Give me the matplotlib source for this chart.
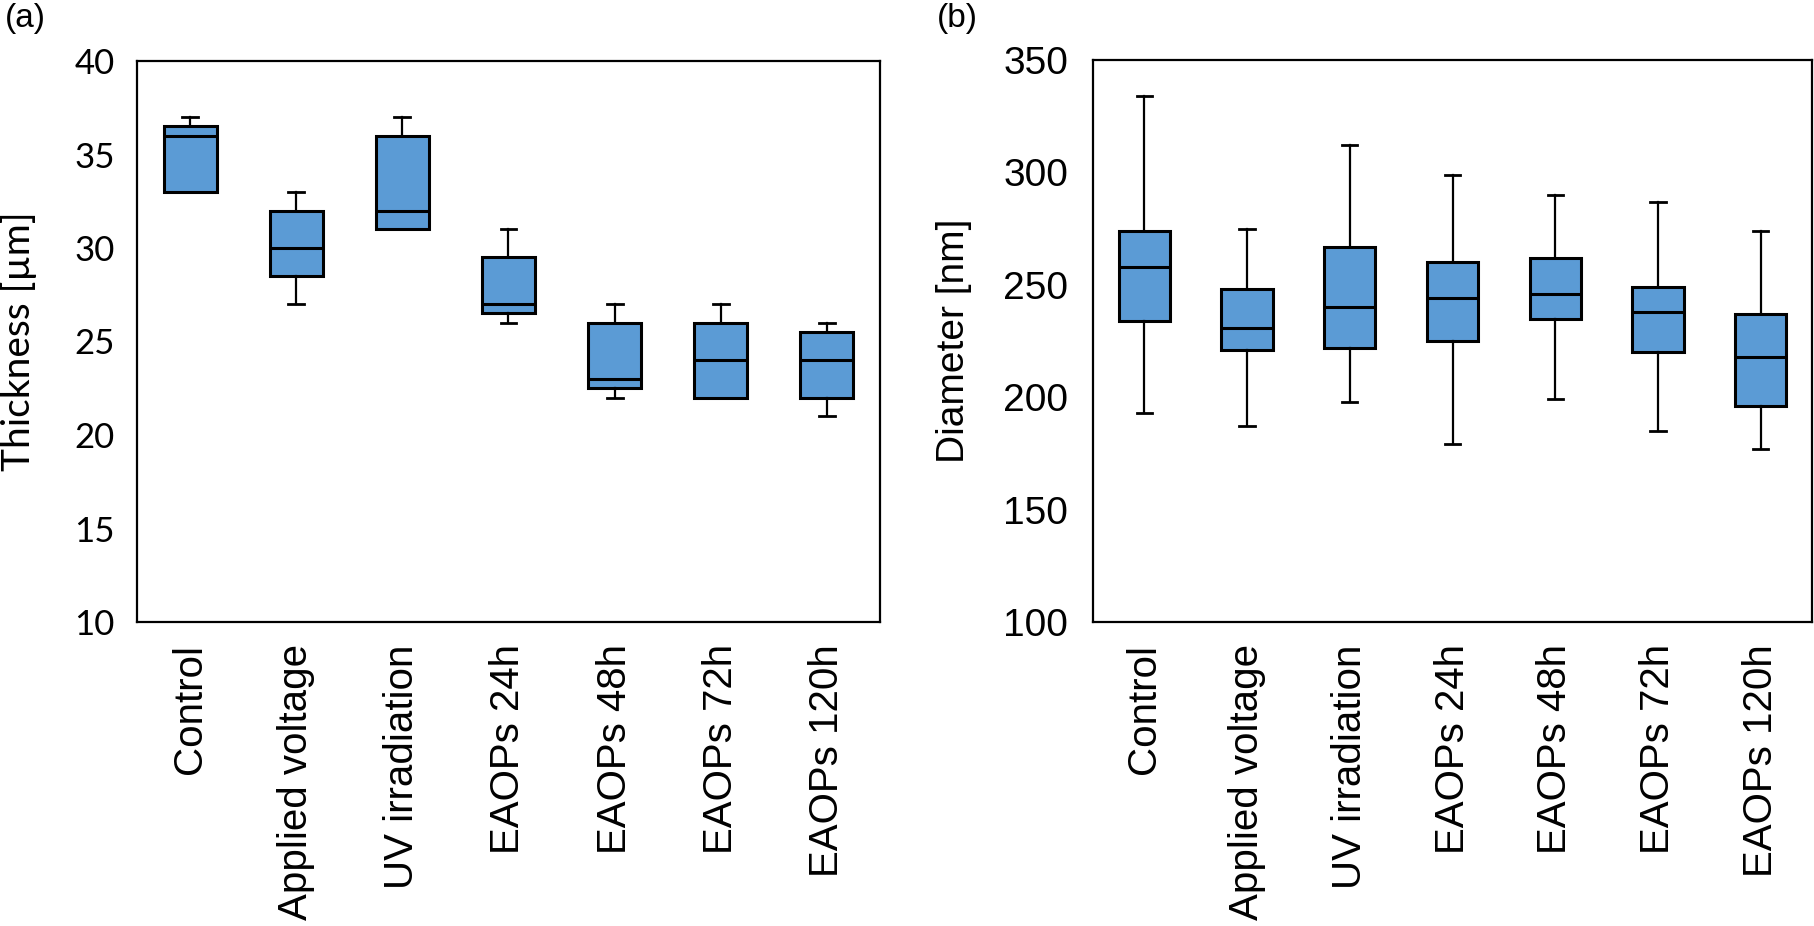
import numpy as np
import matplotlib.pyplot as plt

# Category labels shared by both panels
categories = ["Control", "Applied voltage", "UV irradiation", "EAOPs 24h",
              "EAOPs 48h", "EAOPs 72h", "EAOPs 120h"]

# (a) Thickness [µm] box statistics
thick_low = [33, 27, 31, 26, 22, 22, 21]
thick_q1 = [33, 28.5, 31, 26.5, 22.5, 22, 22]
thick_med = [36, 30, 32, 27, 23, 24, 24]
thick_q3 = [36.5, 32, 36, 29.5, 26, 26, 25.5]
thick_high = [37, 33, 37, 31, 27, 27, 26]

# (b) Diameter [nm] box statistics
diam_low = [193, 187, 198, 179, 199, 185, 177]
diam_q1 = [234, 221, 222, 225, 235, 220, 196]
diam_med = [258, 231, 240, 244, 246, 238, 218]
diam_q3 = [274, 248, 267, 260, 262, 249, 237]
diam_high = [334, 275, 312, 299, 290, 287, 274]

BOX_COLOR = "#5B9BD5"
W, H = 1815, 926


def make_stats(low, q1, med, q3, high):
    return [
        dict(whislo=a, q1=b, med=c, q3=d, whishi=e, fliers=[])
        for a, b, c, d, e in zip(low, q1, med, q3, high)
    ]


def px_axes(fig, left, top, right, bottom):
    return fig.add_axes([left / W, 1 - bottom / H, (right - left) / W, (bottom - top) / H])


def draw_panel(ax, stats, ylim, yticks, ylabel, font, tick_size, ypad, label_x):
    ax.bxp(
        stats,
        positions=np.arange(len(stats)),
        widths=0.5,
        showfliers=False,
        patch_artist=True,
        boxprops=dict(facecolor=BOX_COLOR, edgecolor="black", linewidth=2.2),
        medianprops=dict(color="black", linewidth=2.2),
        whiskerprops=dict(color="black", linewidth=1.6),
        capprops=dict(color="black", linewidth=2),
        capwidths=0.15,
    )
    ax.set_xlim(-0.5, len(stats) - 0.5)
    ax.set_ylim(*ylim)
    ax.set_yticks(yticks)
    ax.set_xticks(np.arange(len(stats)))
    ax.set_xticklabels(categories, rotation=90, fontsize=29,
                       family="Liberation Sans")
    ax.tick_params(axis="both", length=0)
    ax.tick_params(axis="y", pad=ypad)
    ax.tick_params(axis="x", pad=16)
    for lbl in ax.get_yticklabels():
        lbl.set_fontsize(tick_size)
        lbl.set_family(font)
    ax.set_ylabel(ylabel, fontsize=28, family=font, va="center")
    ax.yaxis.set_label_coords(label_x, 0.5)
    for sp in ax.spines.values():
        sp.set_linewidth(1.6)


fig = plt.figure(figsize=(W / 100, H / 100), dpi=100)
ax1 = px_axes(fig, 137, 61, 880, 622)
ax2 = px_axes(fig, 1093, 60, 1812, 622)

draw_panel(ax1, make_stats(thick_low, thick_q1, thick_med, thick_q3, thick_high),
           (10, 40), np.arange(10, 41, 5), "Thickness [µm]", "Lato", 25, 16,
           (19 - 137) / 743)
draw_panel(ax2, make_stats(diam_low, diam_q1, diam_med, diam_q3, diam_high),
           (100, 350), np.arange(100, 351, 50), "Diameter [nm]", "Liberation Sans",
           28, 18, (954 - 1093) / 719)

fig.text(5 / W, 1 - 3 / H, "(a)", fontsize=24, family="Liberation Sans", va="top")
fig.text(937 / W, 1 - 3 / H, "(b)", fontsize=24, family="Liberation Sans", va="top")

fig.savefig("out.png", dpi=100)
